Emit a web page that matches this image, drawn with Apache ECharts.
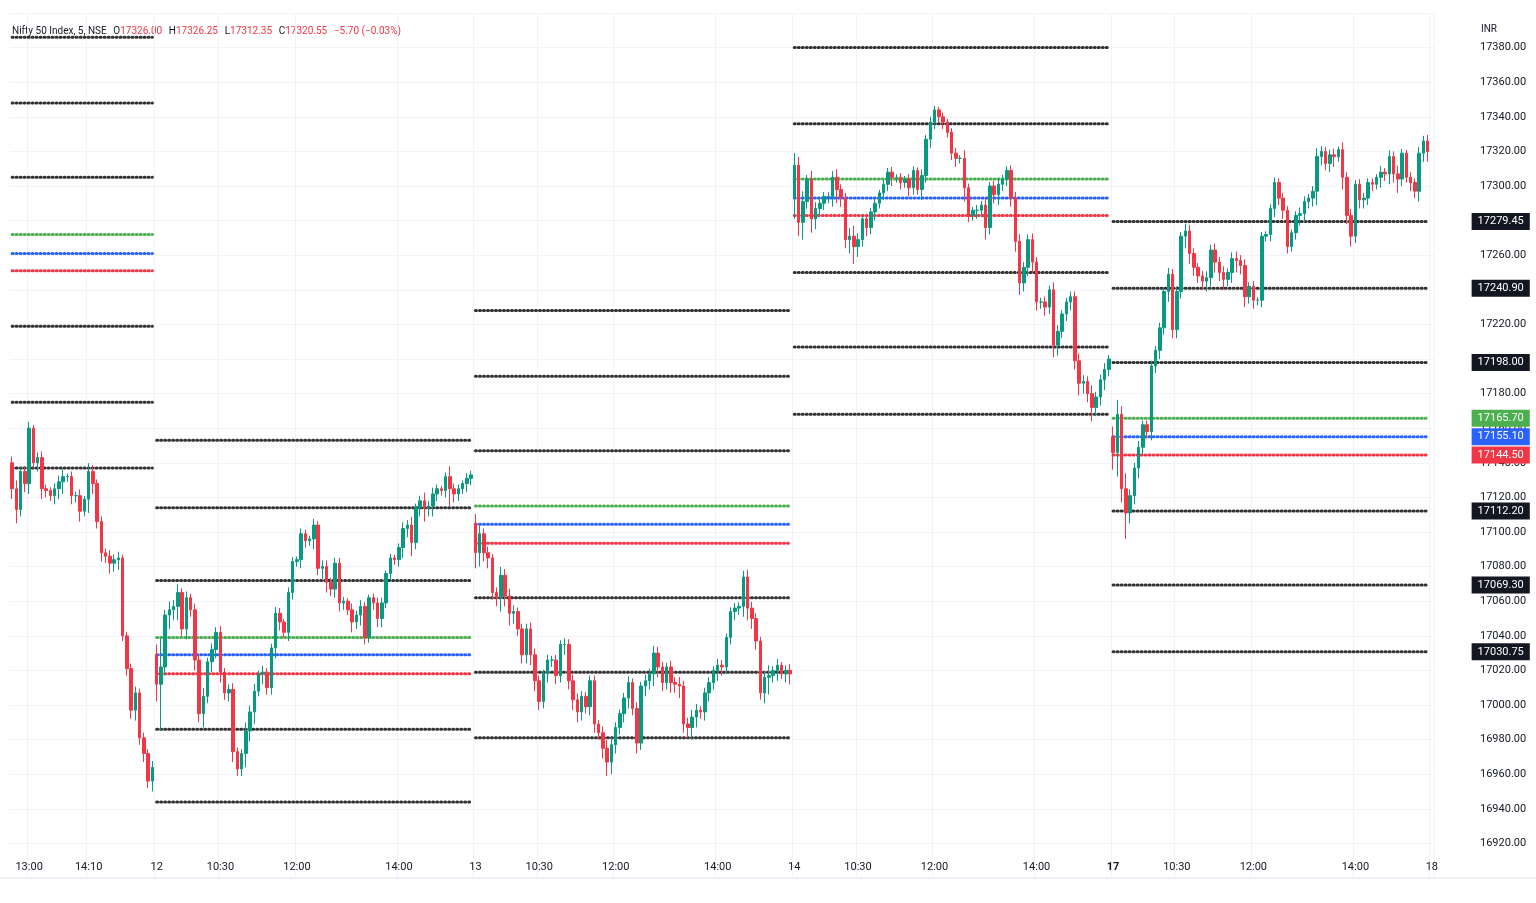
<!DOCTYPE html>
<html>
<head>
<meta charset="utf-8">
<script src="https://cdn.jsdelivr.net/npm/echarts@6/dist/echarts.min.js"></script>
<style>html,body{margin:0;padding:0;background:#fff}#chart{width:1536px;height:903px}</style>
</head>
<body>
<div id="chart"></div>
<script>
// 交易日与每日开盘价
var days = ['11', '12', '13', '14', '17'];
var dayOpens = [17140, 17029, 17105, 17293, 17155];

// 每日5分钟收盘价
var close11 = [17125,17113,17135,17128,17160,17140,17143,17125,17124,17121,17125,17129,17132,17132,17121,17121,17112,17119,17135,17128,17106,17088,17086,17082,17084,17085,17040,17021,16997,17007,16981,16972,16956,16964];
var close12 = [17012,17022,17052,17055,17057,17065,17044,17062,17055,17026,16995,17005,17025,17032,17042,17019,17007,17009,16973,16963,16972,16985,16996,17008,17018,17019,17010,17033,17053,17048,17042,17065,17083,17084,17099,17095,17096,17104,17079,17080,17071,17067,17082,17059,17060,17055,17048,17052,17057,17039,17062,17059,17050,17059,17076,17085,17084,17091,17102,17104,17094,17114,17118,17114,17115,17122,17125,17124,17132,17125,17122,17125,17128,17131,17133];
var close13 = [17088,17099,17088,17085,17065,17062,17075,17063,17053,17054,17044,17029,17044,17029,17014,17002,17018,17026,17026,17017,17035,17035,17014,17003,16996,17005,16999,17014,16989,16984,16975,16967,16977,16987,16995,17004,17013,16998,16978,17011,17014,17018,17030,17022,17013,17022,17013,17012,17011,16989,16987,16993,16997,16996,17007,17013,17020,17023,17022,17039,17054,17056,17057,17074,17056,17050,17037,17007,17016,17017,17020,17023,17018,17020,17018];
var close14 = [17312,17279,17291,17304,17281,17287,17290,17294,17294,17305,17298,17293,17269,17271,17265,17269,17281,17276,17285,17290,17296,17301,17308,17305,17305,17302,17304,17299,17309,17298,17306,17327,17337,17344,17340,17337,17331,17319,17316,17316,17299,17283,17286,17286,17289,17276,17300,17295,17301,17304,17309,17293,17268,17244,17253,17269,17256,17233,17233,17230,17240,17208,17216,17226,17233,17236,17199,17186,17187,17180,17172,17178,17188,17194,17200];
var close17 = [17146,17168,17125,17111,17121,17137,17149,17162,17158,17196,17205,17218,17239,17249,17217,17239,17271,17274,17261,17253,17248,17245,17247,17263,17256,17250,17246,17250,17258,17257,17254,17236,17242,17234,17234,17271,17272,17287,17302,17293,17286,17265,17273,17283,17284,17291,17293,17297,17317,17320,17313,17318,17317,17321,17305,17283,17271,17301,17292,17293,17302,17301,17305,17308,17307,17317,17307,17304,17319,17305,17302,17297,17319,17326,17320];
var closes = [close11, close12, close13, close14, close17];

// 影线长度(点)
var wick11 = [6,8,4,5,6,3,5,6,4,3,5,6,7,3,5,4,6,3,8,6,4,5,4,6,5,6,3,4,5,6,4,5,4,6];
var wick12 = [10,27,5,8,6,8,4,6,4,6,5,8,4,6,5,6,4,5,6,4,4,8,6,7,3,6,4,4,6,5,3,5,4,3,5,4,3,6,4,6,6,4,5,5,4,3,6,4,6,4,3,4,5,5,3,4,3,4,6,5,8,4,5,8,5,6,4,3,4,10,5,4,3,5,4];
var wick13 = [9,8,5,6,4,5,8,6,7,6,4,5,5,6,6,5,4,5,4,5,4,6,5,6,6,5,4,5,5,4,6,8,7,5,4,5,6,4,6,4,6,5,7,6,5,4,6,5,7,5,6,7,6,4,5,5,4,6,5,4,4,5,4,6,7,6,5,4,6,10,4,6,3,5,6];
var wick14 = [12,8,10,4,8,6,5,4,4,6,8,5,5,8,10,6,4,5,4,5,3,4,4,5,3,4,3,5,4,3,6,4,5,4,3,4,3,4,5,3,8,4,3,5,4,7,4,5,6,4,4,5,6,7,5,5,6,5,4,5,4,7,6,4,4,5,5,7,6,5,8,5,5,6,4];
var wick17 = [10,14,8,15,6,5,6,4,4,5,4,5,4,6,5,5,4,7,6,5,4,5,6,5,6,5,6,4,6,7,5,6,4,5,3,4,3,4,5,4,5,4,3,4,6,5,4,5,8,5,4,5,6,3,7,5,6,4,5,5,4,4,3,6,4,6,5,8,4,3,5,4,6,5,6];
var wicks = [wick11, wick12, wick13, wick14, wick17];

// 每日枢轴位(黑色点线)与CPR(绿/蓝/红)
var levelsBlack = [
    [17386, 17348, 17305, 17219, 17175, 17137],
    [17153, 17114, 17072, 16986, 16944],
    [17228, 17190, 17147, 17062, 17019, 16981],
    [17380, 17336, 17250, 17207, 17168],
    [17279.45, 17240.90, 17198.00, 17112.20, 17069.30, 17030.75]
];
var levelsCpr = [
    [17272, 17261, 17251],
    [17039, 17029, 17018],
    [17115, 17104.5, 17093.5],
    [17304, 17293, 17283],
    [17165.70, 17155.10, 17144.50]
];
var cprColors = ['#4caf50', '#2962ff', '#f23645'];

var UP = '#089981', DOWN = '#f23645';

function pad(n) { return (n < 10 ? '0' : '') + n; }

// 生成类目和K线数据
var cats = [], kdata = [], dayRange = [];
closes.forEach(function (arr, d) {
    var startMin = d === 0 ? 12 * 60 + 40 : 9 * 60 + 15;
    var from = cats.length;
    var prev = dayOpens[d];
    arr.forEach(function (c, i) {
        var m = startMin + i * 5;
        cats.push(days[d] + '|' + pad(Math.floor(m / 60)) + ':' + pad(m % 60));
        var w = wicks[d][i] || 0;
        kdata.push([prev, c, Math.min(prev, c) - w, Math.max(prev, c) + w * 0.6]);
        prev = c;
    });
    dayRange.push([from, cats.length - 1]);
});
cats.push('18|09:15');
kdata.push('-');

var showTimes = {'10:30': 1, '12:00': 1, '14:00': 1};
function isLabel(idx) {
    var p = cats[idx].split('|');
    if (p[1] === '09:15') return true;
    if (p[0] === '11') return p[1] === '13:00' || p[1] === '14:10';
    return !!showTimes[p[1]];
}

var series = [{
    type: 'candlestick',
    data: kdata,
    barWidth: 3,
    itemStyle: {color: UP, color0: DOWN, borderColor: UP, borderColor0: DOWN, borderWidth: 1},
    z: 5
}];

function levelSeries(d, v, color, last) {
    var data = cats.map(function (c, i) {
        return (i >= dayRange[d][0] && i <= dayRange[d][1]) ? v : null;
    });
    return {
        type: 'line', data: data, symbol: 'none', silent: true, z: 3,
        lineStyle: {color: color, width: 3, type: [1, 3], cap: 'round'},
        endLabel: last ? {
            show: true, distance: 44, formatter: v.toFixed(2),
            color: '#fff', backgroundColor: color === '#333' ? '#131722' : color,
            padding: [3, 6], fontSize: 11, fontFamily: 'Roboto'
        } : {show: false}
    };
}

levelsBlack.forEach(function (lv, d) {
    lv.forEach(function (v) { series.push(levelSeries(d, v, '#333', d === 4)); });
});
levelsCpr.forEach(function (lv, d) {
    lv.forEach(function (v, k) { series.push(levelSeries(d, v, cprColors[k], d === 4)); });
});

var myChart = echarts.init(document.getElementById('chart'));
myChart.setOption({
    animation: false,
    backgroundColor: '#fff',
    grid: {left: 10, right: 102, top: 13, bottom: 25},
    xAxis: {
        type: 'category',
        data: cats,
        boundaryGap: true,
        axisLine: {show: false},
        axisTick: {show: false},
        axisLabel: {
            interval: function (i) { return isLabel(i); },
            margin: -16,
            fontSize: 11,
            fontFamily: 'Roboto',
            color: '#131722',
            formatter: function (v) {
                var p = v.split('|');
                if (p[1] === '09:15') return p[0] === '17' ? '{b|17}' : p[0];
                return p[1];
            },
            rich: {b: {fontWeight: 'bold', fontSize: 11, color: '#131722'}}
        },
        splitLine: {show: true, interval: function (i) { return isLabel(i); }, lineStyle: {color: '#f0f3fa'}}
    },
    yAxis: {
        type: 'value',
        position: 'right',
        min: 16900,
        max: 17400,
        interval: 20,
        axisLine: {show: false},
        axisTick: {show: false},
        axisLabel: {
            showMinLabel: false, showMaxLabel: false,
            margin: 46, fontSize: 11, fontFamily: 'Roboto', color: '#131722',
            formatter: function (v) { return v.toFixed(2); }
        },
        splitLine: {lineStyle: {color: '#f0f3fa'}}
    },
    graphic: [{
        type: 'text', left: 12, top: 25,
        style: {
            text: '{t|Nifty 50 Index, 5, NSE}  {k|O}{r|17326.00}  {k|H}{r|17326.25}  {k|L}{r|17312.35}  {k|C}{r|17320.55}  {r|\u22125.70 (\u22120.03%)}',
            rich: {
                t: {fontSize: 10, fontFamily: 'Roboto', fill: '#131722'},
                k: {fontSize: 10, fontFamily: 'Roboto', fill: '#131722'},
                r: {fontSize: 10, fontFamily: 'Roboto', fill: '#f23645'}
            }
        }
    }, {
        type: 'text', left: 1481, top: 24,
        style: {text: 'INR', fontSize: 10, fontFamily: 'Roboto', fill: '#131722'}
    }, {
        type: 'line', z: 10,
        shape: {x1: 0, y1: 878, x2: 1536, y2: 878},
        style: {stroke: '#e0e3eb', lineWidth: 1}
    }],
    series: series
});
</script>
</body>
</html>
